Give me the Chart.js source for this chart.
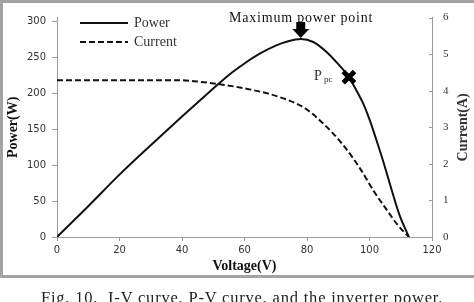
<!DOCTYPE html>
<html>
<head>
<meta charset="utf-8">
<script src="https://cdn.jsdelivr.net/npm/chart.js@4.4.0/dist/chart.umd.min.js"></script>
<style>
  html, body { margin: 0; padding: 0; background: #fff; }
  body { width: 474px; height: 302px; position: relative; overflow: hidden; }
  #chart { position: absolute; left: 0; top: 0; }
  .edge { position: absolute; background: #a3a3a3; }
  #caption {
    position: absolute; left: 5px; top: 288px; width: 474px;
    text-align: center; white-space: nowrap; letter-spacing: 0.8px;
    font: 16.5px "Liberation Serif", serif; line-height: 20px; color: #222;
  }
</style>
</head>
<body>
<canvas id="chart" width="474" height="275"></canvas>
<div class="edge" style="left:0;top:0;width:474px;height:3px"></div>
<div class="edge" style="left:0;top:0;width:3px;height:278px"></div>
<div class="edge" style="left:0;top:275px;width:474px;height:3px"></div>
<div id="caption">Fig. 10.&nbsp; I-V curve, P-V curve, and the inverter power.</div>

<script>
// P-V curve (voltage in V, power in W)
const powerVoltage = [0, 10, 20, 30, 40, 50, 55, 60, 65, 70, 74, 78, 82, 86, 90, 93.4, 96, 98, 100, 102, 104.5, 107, 109.5, 112.6]
const powerWatts = [0, 43, 87, 128, 168, 207, 226, 242, 256, 267, 273, 276, 272, 259, 241, 223, 203, 186, 164, 138, 104, 67, 32, 0]

// I-V curve (voltage in V, current in A)
const currentVoltage = [0, 20, 39, 45, 52, 62, 70, 79, 85, 91.8, 97, 101.4, 105.7, 109, 112.6]
const currentAmps = [4.29, 4.29, 4.29, 4.25, 4.18, 4.03, 3.86, 3.54, 3.12, 2.49, 1.87, 1.25, 0.72, 0.33, 0]

// Axis ticks
const voltageTicks = [0, 20, 40, 60, 80, 100, 120]
const powerTicks = [0, 50, 100, 150, 200, 250, 300]
const currentTicks = [0, 1, 2, 3, 4, 5, 6]

// Marked points
const maxPowerPoint = { x: 78, y: 276 }
const ppcPoint = { x: 93.4, y: 223 }

const axisColor = "#9a9a9a"
const textColor = "#333"
const serif = "'Liberation Serif', 'Times New Roman', serif"
const sans = "'DejaVu Sans', Verdana, sans-serif"

function toPoints(xs, ys) {
  return xs.map((x, i) => ({ x: x, y: ys[i] }))
}

// Draw legend, labels, arrow and right axis details
const annotationPlugin = {
  id: "annotations",
  afterDraw(chart) {
    const { ctx, scales } = chart
    const x = scales.x
    const y = scales.y
    const y2 = scales.y2
    ctx.save()

    // inner tick marks of the current axis
    ctx.strokeStyle = axisColor
    ctx.lineWidth = 1
    y2.ticks.forEach((t) => {
      const py = Math.round(y2.getPixelForValue(t.value)) + 0.5
      ctx.beginPath()
      ctx.moveTo(y2.left - 3, py)
      ctx.lineTo(y2.left, py)
      ctx.stroke()
    })

    // right axis title, reading upwards
    ctx.fillStyle = textColor
    ctx.font = "bold 14px " + serif
    ctx.textAlign = "center"
    ctx.textBaseline = "middle"
    ctx.save()
    ctx.translate(463, (chart.chartArea.top + chart.chartArea.bottom) / 2)
    ctx.rotate(-Math.PI / 2)
    ctx.fillText("Current(A)", 0, 0)
    ctx.restore()

    // legend
    ctx.strokeStyle = "#111"
    ctx.lineWidth = 2
    ctx.beginPath()
    ctx.moveTo(80, 23)
    ctx.lineTo(128, 23)
    ctx.stroke()
    ctx.setLineDash([6, 3])
    ctx.beginPath()
    ctx.moveTo(80, 42)
    ctx.lineTo(128, 42)
    ctx.stroke()
    ctx.setLineDash([])
    ctx.font = "14px " + serif
    ctx.textAlign = "left"
    ctx.fillStyle = textColor
    ctx.fillText("Power", 134, 23)
    ctx.fillText("Current", 134, 42)

    // maximum power point label
    ctx.fillStyle = "#111"
    ctx.letterSpacing = "0.8px"
    ctx.fillText("Maximum power point", 229, 18)
    ctx.letterSpacing = "0px"

    // arrow pointing at the maximum power point
    const ax = x.getPixelForValue(maxPowerPoint.x)
    const ay = y.getPixelForValue(maxPowerPoint.y) - 1
    ctx.fillStyle = "#000"
    ctx.beginPath()
    ctx.moveTo(ax - 4.5, ay - 16)
    ctx.lineTo(ax + 4.5, ay - 16)
    ctx.lineTo(ax + 4.5, ay - 9)
    ctx.lineTo(ax + 8.5, ay - 9)
    ctx.lineTo(ax, ay)
    ctx.lineTo(ax - 8.5, ay - 9)
    ctx.lineTo(ax - 4.5, ay - 9)
    ctx.closePath()
    ctx.fill()

    // Ppc label
    const px = x.getPixelForValue(ppcPoint.x)
    const py = y.getPixelForValue(ppcPoint.y)
    ctx.fillStyle = textColor
    ctx.font = "14px " + serif
    ctx.textAlign = "left"
    ctx.fillText("P", px - 35, py - 1)
    ctx.font = "9px " + serif
    ctx.fillText("pc", px - 25, py + 3)

    ctx.restore()
  },
}

const ctx = document.getElementById("chart").getContext("2d")
new Chart(ctx, {
  type: "line",
  data: {
    datasets: [
      {
        label: "Ppc",
        data: [ppcPoint],
        yAxisID: "y",
        showLine: false,
        pointStyle: "crossRot",
        pointRadius: 8,
        pointBorderWidth: 5,
        borderColor: "#000",
        backgroundColor: "#000",
        order: 0,
      },
      {
        label: "Power",
        data: toPoints(powerVoltage, powerWatts),
        yAxisID: "y",
        borderColor: "#111",
        borderWidth: 2,
        pointRadius: 0,
        cubicInterpolationMode: "monotone",
        order: 1,
      },
      {
        label: "Current",
        data: toPoints(currentVoltage, currentAmps),
        yAxisID: "y2",
        borderColor: "#111",
        borderWidth: 2,
        borderDash: [6, 3],
        pointRadius: 0,
        cubicInterpolationMode: "monotone",
        order: 2,
      },
    ],
  },
  options: {
    responsive: false,
    animation: false,
    devicePixelRatio: 1,
    layout: { padding: { top: 10, left: 0, right: 0, bottom: 0 } },
    plugins: { legend: { display: false }, tooltip: { enabled: false } },
    scales: {
      x: {
        type: "linear",
        min: 0,
        max: 120,
        afterBuildTicks: (scale) => {
          scale.ticks = voltageTicks.map((v) => ({ value: v }))
        },
        afterFit: (scale) => {
          scale.height = 38
        },
        border: { color: axisColor, width: 1 },
        grid: { drawOnChartArea: false, tickLength: 4, color: axisColor },
        ticks: { color: textColor, font: { family: sans, size: 10 }, padding: 3, maxRotation: 0 },
        title: {
          display: true,
          text: "Voltage(V)",
          color: "#111",
          font: { family: serif, size: 14, weight: "bold" },
          padding: { top: 0, bottom: 0 },
        },
      },
      y: {
        position: "left",
        min: 0,
        max: 306,
        afterBuildTicks: (scale) => {
          scale.ticks = powerTicks.map((v) => ({ value: v }))
        },
        afterFit: (scale) => {
          scale.width = 57
        },
        border: { color: axisColor, width: 1 },
        grid: { drawOnChartArea: false, tickLength: 5, color: axisColor },
        ticks: { color: textColor, font: { family: sans, size: 10 }, padding: 6 },
        title: {
          display: true,
          text: "Power(W)",
          color: "#111",
          font: { family: serif, size: 14, weight: "bold" },
          padding: { top: 5, bottom: 0 },
        },
      },
      y2: {
        position: "right",
        min: 0,
        max: 6,
        afterBuildTicks: (scale) => {
          scale.ticks = currentTicks.map((v) => ({ value: v }))
        },
        afterFit: (scale) => {
          scale.width = 42
        },
        border: { color: axisColor, width: 1 },
        grid: { drawOnChartArea: false, drawTicks: false },
        ticks: { color: textColor, font: { family: serif, size: 11 }, padding: 11 },
      },
    },
  },
  plugins: [annotationPlugin],
})
</script>
</body>
</html>
